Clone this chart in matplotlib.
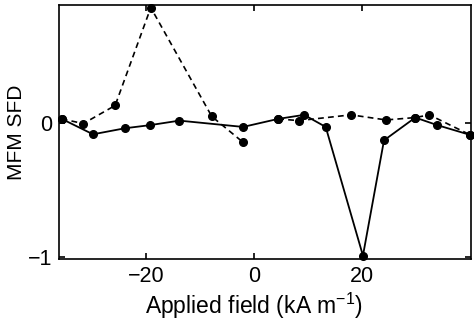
import numpy as np
import matplotlib
matplotlib.use("Agg")
import matplotlib.pyplot as plt

plt.rcParams['font.family'] = ['Liberation Sans', 'DejaVu Sans']
plt.rcParams['mathtext.fontset'] = 'custom'
plt.rcParams['mathtext.rm'] = 'Liberation Sans'
plt.rcParams['mathtext.it'] = 'Liberation Sans'
plt.rcParams['mathtext.default'] = 'rm'

solid_x = [-35.7, -29.9, -24.0, -19.4, -13.9, -2.1, 4.4, 9.2, 13.2, 20.1, 24.0, 29.8, 33.9, 40.0]
solid_y = [0.03, -0.085, -0.04, -0.017, 0.017, -0.03, 0.03, 0.06, -0.03, -0.99, -0.13, 0.04, -0.017, -0.09]

dash_x = [-35.7, -31.7, -25.8, -19.2, -7.9, -2.1, np.nan, 4.4, 8.2, 17.9, 24.4, 29.8, 32.4, 40.0]
dash_y = [0.03, -0.005, 0.13, 0.86, 0.048, -0.145, np.nan, 0.03, 0.017, 0.06, 0.022, 0.04, 0.06, -0.09]

xticks = [-20, 0, 20]
yticks = [-1, 0]

fig = plt.figure(figsize=(4.74, 3.22), dpi=100)
ax = fig.add_axes([0.1245, 0.1957, 0.869, 0.789])

ax.plot(solid_x, solid_y, '-', color='black', lw=1.3, marker='o', ms=5.5, clip_on=False, zorder=3)
ax.plot(dash_x, dash_y, '--', color='black', lw=1.2, marker='o', ms=5.5, dashes=(3.5, 2.5), clip_on=False, zorder=3)

ax.set_xlim(-36.2, 40.1)
ax.set_ylim(-1.015, 0.88)
ax.set_xticks(xticks)
ax.set_xticklabels(['\u221220', '0', '20'])
ax.set_yticks(yticks)
ax.set_yticklabels(['\u22121', '0'])
ax.tick_params(direction='in', length=4, width=1.2, top=True, right=True, labelsize=15.5, pad=5)
for s in ax.spines.values():
    s.set_linewidth(1.2)

ax.set_xlabel('Applied field (kA m$^{\u22121}$)', fontsize=16.5)
ax.xaxis.set_label_coords(0.473, -0.215)
ax.xaxis.label.set_va('baseline')
ax.set_ylabel('MFM SFD', fontsize=15, labelpad=1)

fig.savefig('out.png', dpi=100)
